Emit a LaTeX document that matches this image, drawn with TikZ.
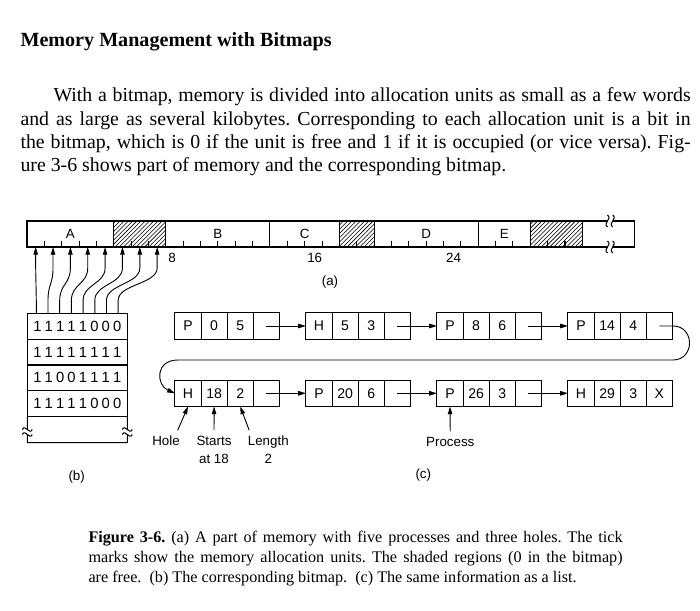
\documentclass[tikz,border=0pt]{standalone}
\usepackage{fontspec}
\setmainfont{Liberation Serif}
\newfontfamily\figsans{Liberation Sans}
\usetikzlibrary{arrows.meta,positioning,patterns}

\newcommand\bitrow[8]{\makebox[2.2cm]{#1\hfill#2\hfill#3\hfill#4\hfill#5\hfill#6\hfill#7\hfill#8}}

\begin{document}
\frenchspacing
\begin{tikzpicture}[
  x=0.025cm, y=-0.025cm,
  line width=0.75pt,
  lab/.style={font=\figsans\fontsize{9.5}{12.8}\selectfont, inner sep=0pt, align=center},
  unitlab/.style={font=\figsans\fontsize{9.5}{10}\selectfont, inner sep=0pt},
  bits/.style={draw, minimum width=2.5cm, minimum height=0.646cm, inner sep=0pt,
               outer sep=0pt, font=\figsans\fontsize{10.5}{12}\selectfont},
  cell/.style={draw, minimum width=0.6525cm, minimum height=0.66cm, inner sep=0pt,
               outer sep=0pt, font=\figsans\fontsize{10}{11}\selectfont},
  ar/.style={-{Triangle[length=5.5pt,width=3.2pt]}, line width=0.65pt},
  unitmark/.style={line width=0.75pt},
  free/.style={pattern=north east lines},
]
\fill[white] (0,0) rectangle (700,611);
\useasboundingbox (0,0) rectangle (700,611);

% page text
\node[anchor=base west, inner sep=0pt, font=\bfseries\fontsize{14.3}{17}\selectfont]
  (title) at (20,46.5) {Memory Management with Bitmaps};
\node[anchor=north west, inner sep=0pt, text width=16.75cm, align=justify,
      font=\fontsize{14.1}{16.4}\selectfont] (para) at (20,87.5)
  {\noindent\hspace*{0.825cm}With a bitmap, memory is divided into allocation units as small as a few words\linebreak
   and as large as several kilobytes. Corresponding to each allocation unit is a bit in\linebreak
   the bitmap, which is 0 if the unit is free and 1 if it is occupied (or vice versa). Fig-\linebreak
   ure 3-6 shows part of memory and the corresponding bitmap.};

% (a) memory
\begin{scope}[xshift=0.675cm, x=0.43375cm]
  \foreach \a/\b in {5/8, 18/20, 29/32}
    \fill[free] (\a,221) rectangle (\b,247);
  \draw (33.45,221) -| (0,247) -- (33.45,247);
  \draw (33.75,221) -| (35,247) -- (33.75,247);
  \foreach \m in {5,8,14,18,20,26,29,32}
    \draw (\m,221) -- (\m,247);
  \foreach \n in {1,2,...,31}
    \draw[unitmark] (\n,241) -- (\n,247);
  \foreach \y in {221,247}
    \foreach \s in {33.45,33.75}
      \draw[unitmark] (\s,\y+6) .. controls (\s-0.3,\y+2) and (\s+0.3,\y-2) .. (\s,\y-6);
  \foreach \t/\m in {A/2.5, B/11, C/16, D/23, E/27.5}
    \node[unitlab] (lab\t) at (\m,233.5) {\t};
  \foreach \m in {8,16,24}
    \node[unitlab, anchor=north west] (num\m) at (\m+0.12,253) {\m};
  \foreach \k in {0,...,7} {
    \coordinate (u\k) at (\k+0.5,247);
    \coordinate (v\k) at (\k+0.5,268);
  }
\end{scope}
\node[lab] (capa) at (330,281.7) {(a)};

% (b) bitmap
\node[bits, anchor=north west] (row1) at (27.3,313.3) {\bitrow11111000};
\node[bits, below=0pt of row1] (row2) {\bitrow11111111};
\node[bits, below=0pt of row2] (row3) {\bitrow11001111};
\node[bits, below=0pt of row3] (row4) {\bitrow11111000};
\draw (row4.south west) -- (27.3,429.5) (27.3,434.5) -- (27.3,442.7) -- (127.3,442.7)
      -- (127.3,434.5) (127.3,429.5) -- (row4.south east);
\foreach \x in {27.3,127.3}
  \foreach \y in {429.5,434.5}
    \draw[unitmark] (\x-5,\y) .. controls (\x-2,\y-6) and (\x+2,\y+6) .. (\x+5,\y);
\node[lab] (capb) at (76.7,476.7) {(b)};

\foreach \k in {0,...,7} {
  \coordinate (b\k) at ({36.3+11.7*\k},313.3);
  \draw[ar] (b\k) -- ++(0,-13) .. controls +(0,-16) and +(0,16) .. (v\k) -- (u\k);
}

% (c) list
\foreach \kind/\start/\len/\nxt/\cx/\cy [count=\j] in
  {P/0/5/{}/188/326, H/5/3/{}/319/326, P/8/6/{}/450/326, P/14/4/{}/581/326,
   H/18/2/{}/188/393.3, P/20/6/{}/319/393.3, P/26/3/{}/450/393.3, H/29/3/X/581/393.3} {
  \node[cell] (k\j) at (\cx,\cy) {\kind};
  \node[cell, right=0pt of k\j] (s\j) {\start};
  \node[cell, right=0pt of s\j] (l\j) {\len};
  \node[cell, right=0pt of l\j] (n\j) {\nxt};
}
\foreach \a/\b in {1/2, 2/3, 3/4, 5/6, 6/7, 7/8}
  \draw[ar] (n\a.center) -- (k\b.west);
\draw[ar] (n4.center) -- (673,326) .. controls (695,326) and (695,360) .. (673,360)
  -- (178,360) .. controls (155,360) and (156,385) .. (k5.west);

\node[lab, anchor=north] (hole) at (166,435.5) {Hole};
\node[lab, anchor=north] (starts) at (214,435.5) {Starts\\at 18};
\node[lab, anchor=north] (length) at (268.3,435.5) {Length\\2};
\node[lab, anchor=north] (proc) at (450.3,437) {Process};
\draw[ar, shorten <=4pt] (hole.30) -- (k5.south);
\draw[ar, shorten <=4pt] (starts.north) -- (s5.south);
\draw[ar, shorten <=4pt] (length.140) -- (l5.south);
\draw[ar, shorten <=4pt] (proc.north) -- (k7.south);
\node[lab] (capc) at (423.3,475) {(c)};

% caption
\node[anchor=north west, inner sep=0pt, text width=13.35cm, align=justify,
      font=\fontsize{11.5}{14.2}\selectfont] (caption) at (88,530.5)
  {\noindent\textbf{Figure 3-6.} (a) A part of memory with five processes and three holes. The tick\linebreak
   marks show the memory allocation units. The shaded regions (0 in the bitmap)\linebreak
   are free.\ \ (b) The corresponding bitmap.\ \ (c) The same information as a list.};
\end{tikzpicture}
\end{document}
